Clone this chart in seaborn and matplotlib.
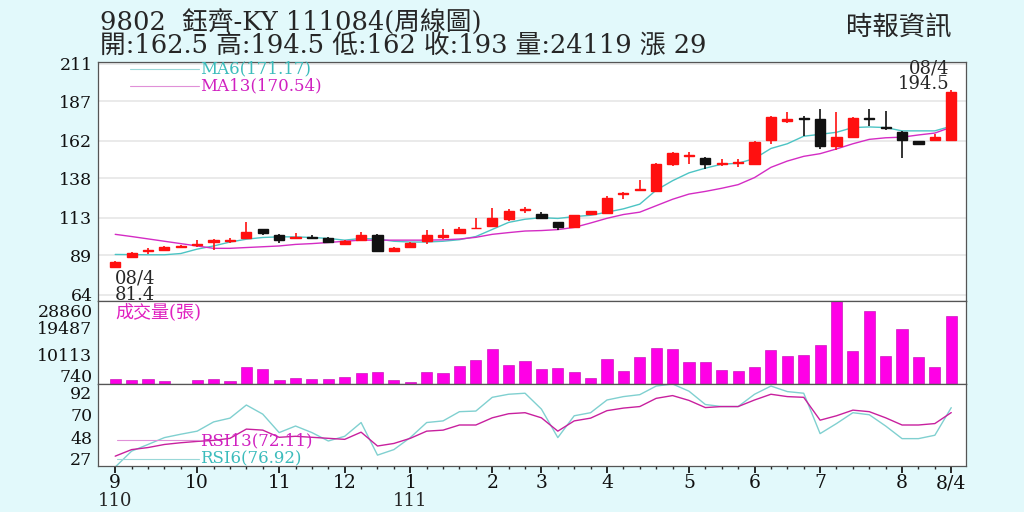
import matplotlib
matplotlib.use("Agg")
import matplotlib.pyplot as plt
import seaborn as sns
import pandas as pd
import numpy as np

sns.set_theme(style="white")
plt.rcParams['font.family'] = ['DejaVu Serif', 'Noto Sans CJK TC', 'DejaVu Sans']

opens  = [81.5,87.8,91.5,92.6,94.5,95.5,97.5,98,100,105.5,102,100.2,100.8,100,96,98.7,101.8,92,94.5,98,101,103,106.3,108,112,117.8,115.5,
          110,107,115.5,116,128,130.5,130,147,152.5,151,147.2,147.8,147,162.6,174.5,176.3,176,158.5,164.5,176.3,170.8,167.5,162,162.6,162.5]
closes = [85,90.5,92.5,94.5,95,96,98.5,99,104,103,99,100.5,100.3,97.5,98,101.8,92,94,97,101.8,102,106,106.6,113,117,118.2,113,
          107,114.5,117,125.5,129,131.5,147,154,152.8,147,147.5,148.3,161,177,175.5,175.8,158.5,164.5,176.6,175.8,170.3,162.6,160,164,193]
highs  = [85.5,91,94,95,95.5,99,99.5,100,110,106,102.5,103,102,100.5,98.5,104,102.5,94.5,97.5,105,106,107,113,119,118.5,119.5,116.5,
          110.5,115,117.5,126.5,129.5,137,147.5,154.5,154.5,151.5,150,150.5,161.5,177.5,180,177.5,182,180,177,182,181,168,162,166,194.5]
lows   = [81.4,87.5,90,92,94,94.5,92.5,97,99.5,102,97,99.5,99.5,97,95.5,98.5,91.5,91.5,94,96,99.5,102.5,105.5,107,111,116,112.5,
          105,106.5,115,115.5,125,130,129.5,146,147,144,146,145,146.5,160,173,165,156.5,156,163.5,171.5,169,151,159,162,162]
ma6    = [89.6,89.5,89.4,89.4,90.2,93,95,97.5,99.3,100.4,100.8,100.8,100.4,99.8,98.7,99.8,99.4,98,97.5,97.5,98,99,101,105.5,110,112,113,
          112.5,113.7,114.5,116.5,118.6,121.6,130.5,136.5,141.5,144.5,147,147.6,150.6,157,160,164.8,166,167.3,170.3,170.7,170.3,168.2,168.2,168.2,171.17]
ma13   = [102.4,101,99.5,98,96.5,95,93.5,93.5,94,94.5,95,96,96.5,97.2,98,98.7,98.7,98.7,98.7,98.7,98.9,99.4,100.5,102.4,103.5,104.5,104.8,
          105.4,106.8,109.6,112.6,115,116.5,120.6,124.7,128,129.7,131.7,134,138.5,145,149,152,153.7,156.7,160,162.8,163.8,164.2,165.6,166.8,170.54]
volume = [1900,1500,1800,1200,0,1300,1600,900,5750,5050,1500,2100,1900,1600,2600,3900,4100,1500,700,4200,3800,6200,8300,12100,6700,8000,5300,
          5400,4200,2100,8800,4600,9500,12600,12000,7800,7600,4700,4500,6000,11800,9600,10200,13600,28860,11400,25300,9700,19000,9300,5900,23800]
rsi13  = [29.6,36,38,41,42.7,44,45,47,56,55,48,49,48,47,46,53,39.5,42,47,54,55,60,60,67,71,72,67,
          54,64,66.7,74,76.5,78,86,88.7,84,77,78,78,84.4,90,87.7,87,64.7,69,74.5,73,67,60,60,61.4,72.11]
rsi6   = [19,34.5,41,47.7,51,54,63,66.7,79.5,70.6,52.6,59,52.6,44.4,49,62.4,30.6,36,47.7,62.4,64,73,73.6,87,90,91,75.5,
          47.7,69,72,84.4,87.7,89.6,98,100,93,80,78,78,90,98,92.6,91,51.6,61.4,72,70,59,46.7,46.7,50,76.92]
price_ticks = [211,187,162,138,113,89,64]
vol_tick_labels = ["28860","19487","10113","740"]
rsi_ticks = [92,70,48,27]
month_pos = [0,5,10,14,18,23,26,30,35,39,43,48,51]
month_lab = ["9","10","11","12","1","2","3","4","5","6","7","8","8/4"]

n = len(closes)
idx = np.arange(n)
df = pd.DataFrame(dict(i=idx, o=opens, c=closes, h=highs, l=lows, ma6=ma6, ma13=ma13,
                       vol=volume, r13=rsi13, r6=rsi6))

BG = "#e2f9fb"
fig = plt.figure(figsize=(10.24, 5.12), dpi=100, facecolor=BG)
L, R = 98/1024, 966/1024
ax1 = fig.add_axes([L, 1-301/512, R-L, (301-62)/512])
ax2 = fig.add_axes([L, 1-384/512, R-L, (384-301)/512], sharex=ax1)
ax3 = fig.add_axes([L, 1-466/512, R-L, (466-384)/512], sharex=ax1)
for a in (ax1, ax2, ax3):
    a.set_facecolor("white")
    for s in a.spines.values():
        s.set_color("#555555"); s.set_linewidth(0.9)
    a.tick_params(axis='y', labelsize=12.5, length=3, pad=1, colors="#111111")

# price panel
up = df.c >= df.o
colors = np.where(up, "#ff1010", "#111111")
ax1.vlines(df.i, df.l, df.h, colors=colors, linewidth=1.2, zorder=3)
body_b = np.minimum(df.o, df.c)
body_h = np.maximum(np.abs(df.c - df.o), 0.4)
ax1.bar(df.i, body_h, bottom=body_b, width=0.62, color=colors, edgecolor=colors, zorder=4)
sns.lineplot(data=df, x="i", y="ma6", ax=ax1, color="#4cc4c4", linewidth=1.0, zorder=2)
sns.lineplot(data=df, x="i", y="ma13", ax=ax1, color="#d42cc4", linewidth=1.0, zorder=2)
ax1.set_ylim(60, 212)
ax1.set_yticks(price_ticks)
ax1.grid(axis='y', color="#e6e6e6", linewidth=1.2)
ax1.set_xlim(-1.05, 51.9)
ax1.set_ylabel(""); ax1.set_xlabel("")
ax1.tick_params(axis='x', bottom=False, labelbottom=False)
ax1.plot([0.9, 5.1], [207.5, 207.5], color="#9ad8d8", linewidth=0.8)
ax1.plot([0.9, 5.1], [197, 197], color="#e090d8", linewidth=0.8)
ax1.text(5.2, 207.5, "MA6(171.17)", color="#3cbcbc", fontsize=12, va='center')
ax1.text(5.2, 197, "MA13(170.54)", color="#d020c0", fontsize=12, va='center')
ax1.text(50.9, 203, "08/4\n194.5", fontsize=13, ha='right', va='center', linespacing=0.85)
ax1.text(0, 69, "08/4\n81.4", fontsize=13, ha='left', va='center', linespacing=0.85)

# volume
sns.barplot(data=df, x="i", y="vol", ax=ax2, native_scale=True, color="#ff00e6",
            saturation=1, width=0.68, edgecolor="#c000b0", linewidth=0.4)
ax2.set_ylim(0, 28860)
ax2.set_yticks([25400, 19500, 10100, 2800])
ax2.set_yticklabels(vol_tick_labels)
ax2.set_ylabel(""); ax2.set_xlabel("")
ax2.tick_params(axis='x', bottom=False, labelbottom=False)
ax2.text(0, 25000, "成交量(張)", color="#e020c0", fontsize=13, va='center')

# RSI
sns.lineplot(data=df, x="i", y="r6", ax=ax3, color="#80d0d0", linewidth=1.0)
sns.lineplot(data=df, x="i", y="r13", ax=ax3, color="#c8209e", linewidth=1.0)
ax3.set_ylim(20, 100)
ax3.set_yticks(rsi_ticks)
ax3.set_ylabel(""); ax3.set_xlabel("")
ax3.plot([0.1, 5.1], [45, 45], color="#e090d8", linewidth=0.8)
ax3.plot([0.1, 5.1], [27, 27], color="#9ad8d8", linewidth=0.8)
ax3.text(5.2, 45, "RSI13(72.11)", color="#d020c0", fontsize=12, va='center')
ax3.text(5.2, 27, "RSI6(76.92)", color="#3cbcbc", fontsize=12, va='center')
ax3.set_xticks(month_pos)
ax3.set_xticklabels(month_lab, fontsize=13.5)
ax3.set_xticks(idx, minor=True)
ax3.tick_params(axis='x', which='major', length=5, pad=1, colors="#111111", bottom=True)
ax3.tick_params(axis='x', which='minor', length=2, bottom=True)
ax3.text(0, -0.43, "110", transform=ax3.get_xaxis_transform(), ha='center', va='center', fontsize=13)
ax3.text(18, -0.43, "111", transform=ax3.get_xaxis_transform(), ha='center', va='center', fontsize=13)

fig.text(100/1024, 1-22/512, "9802  鈺齊-KY 111084(周線圖)", fontsize=18.5, va='center')
fig.text(100/1024, 1-46/512, "開:162.5 高:194.5 低:162 收:193 量:24119 漲 29", fontsize=18.5, va='center')
fig.text(952/1024, 1-27/512, "時報資訊", fontsize=19, va='center', ha='right')

fig.savefig("out.png", dpi=100, facecolor=BG)
